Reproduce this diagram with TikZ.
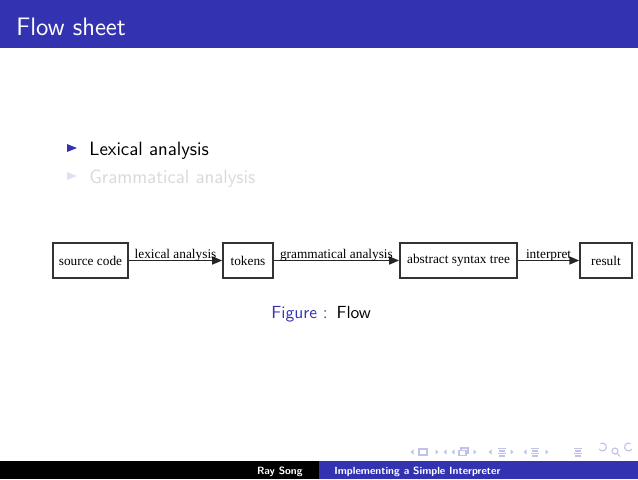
\documentclass[tikz,border=0pt]{standalone}
\usepackage{fontspec}
\newfontfamily\diagfont{Liberation Serif}
\usetikzlibrary{arrows.meta}
\definecolor{structblue}{RGB}{51,51,178}

\begin{document}
\begin{tikzpicture}[x=0.2006mm,y=-0.2006mm,
  box/.style={draw=black!80,line width=0.32mm,minimum height=7mm,inner sep=0pt,
    font=\diagfont\fontsize{7.6}{9}\selectfont},
  flow/.style={draw=black!85,line width=0.3mm,-{Triangle[length=2mm,width=1.6mm]}},
  lbl/.style={above,inner sep=0pt,yshift=-0.9pt,font=\diagfont\fontsize{7.6}{9}\selectfont},
  navline/.style={draw=structblue!30,line width=0.22mm},
  nav/.style={fill=structblue!30}]
  \useasboundingbox (0,0) rectangle (638,479);

  % frame title
  \path[fill=structblue] (0,0) rectangle (638,48);
  \node[anchor=base west,inner sep=0pt,text=white,
    font=\sffamily\fontsize{14.4}{17}\selectfont] (title) at (16,35) {Flow sheet};

  % items
  \path[fill=structblue] (67,144)--++(10,4)--++(-10,4)--cycle;
  \node[anchor=base west,inner sep=0pt,font=\sffamily\fontsize{11}{13}\selectfont]
    (lex) at (89,155) {Lexical analysis};
  \path[fill=structblue!15] (67,172)--++(10,4)--++(-10,4)--cycle;
  \node[anchor=base west,inner sep=0pt,text=black!15,font=\sffamily\fontsize{11}{13}\selectfont]
    (gram) at (89,183) {Grammatical analysis};

  % flow
  \node[box,minimum width=15.05mm] (src) at (90.5,260.5) {source code};
  \node[box,minimum width=10.03mm] (tok) at (248,260.5) {tokens};
  \node[box,minimum width=23.5mm] (ast) at (458.5,260.5) {abstract syntax tree};
  \node[box,minimum width=10.4mm] (res) at (606,260.5) {result};
  \draw[flow] (src) -- node[lbl] {lexical analysis} (tok);
  \draw[flow] (tok) -- node[lbl] {grammatical analysis} (ast);
  \draw[flow] (ast) -- node[lbl] {interpret} (res);

  \node[anchor=base west,inner sep=0pt,font=\sffamily\fontsize{10}{12}\selectfont]
    (cap) at (271,318) {\textcolor{structblue}{Figure :}\hspace{5pt}Flow};

  % navigation symbols
  \path[nav] (413.5,449.5)--(410.5,452)--(413.5,454.5)--cycle;
  \draw[navline] (419,449) rectangle (427,455);
  \path[nav] (435.5,449.5)--(438.5,452)--(435.5,454.5)--cycle;
  \path[nav] (446.5,449.5)--(443.5,452)--(446.5,454.5)--cycle;
  \path[nav] (454.5,449.5)--(451.5,452)--(454.5,454.5)--cycle;
  \draw[navline] (461,448) rectangle (468,453);
  \draw[navline,fill=white] (459,450.5) rectangle (466,455.5);
  \path[nav] (473.5,449.5)--(476.5,452)--(473.5,454.5)--cycle;
  \path[nav] (491.5,449.5)--(488.5,452)--(491.5,454.5)--cycle;
  \draw[navline] (498,448.5)--(506,448.5) (499,451)--(505,451) (498,453.5)--(506,453.5) (499,456)--(505,456);
  \path[nav] (510.5,449.5)--(513.5,452)--(510.5,454.5)--cycle;
  \path[nav] (526.5,449.5)--(523.5,452)--(526.5,454.5)--cycle;
  \draw[navline] (531,448.5)--(539,448.5) (532,451)--(538,451) (531,453.5)--(539,453.5) (532,456)--(538,456);
  \path[nav] (545.5,449.5)--(548.5,452)--(545.5,454.5)--cycle;
  \draw[navline] (574,448.5)--(582,448.5) (575,451)--(581,451) (574,453.5)--(582,453.5) (575,456)--(581,456);
  \draw[navline] (599,449) arc (150:-120:4);
  \draw[navline] (615,451) circle (3) (617.5,453.5)--(620,456.5);
  \draw[navline] (632,449) arc (30:300:4);

  % footline
  \path[fill=black] (0,461) rectangle (319,479);
  \path[fill=structblue] (319,461) rectangle (638,479);
  \node[anchor=base east,inner sep=0pt,text=white,font=\sffamily\bfseries\fontsize{6}{7}\selectfont]
    (author) at (303,474.5) {Ray Song};
  \node[anchor=base west,inner sep=0pt,text=white,font=\sffamily\bfseries\fontsize{6}{7}\selectfont]
    (talk) at (334,474.5) {Implementing a Simple Interpreter};
\end{tikzpicture}
\end{document}
